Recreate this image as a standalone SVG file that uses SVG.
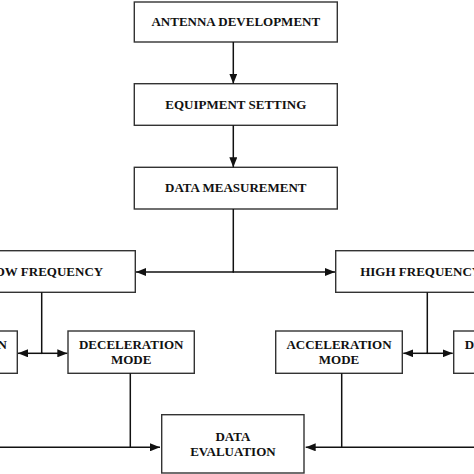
<svg xmlns="http://www.w3.org/2000/svg" width="474" height="474" viewBox="0 0 474 474">
  <defs>
    <marker id="ah" markerUnits="userSpaceOnUse" markerWidth="10" markerHeight="8" refX="10" refY="4" orient="auto">
      <path d="M0,0 L10,4 L0,8 z" fill="#111"/>
    </marker>
    <style>
      .box { fill: #fff; stroke: #333; stroke-width: 1.4; }
      .lbl { font-family: "Liberation Serif", "Times New Roman", serif; font-weight: bold; font-size: 13px; fill: #111; text-anchor: middle; }
      .con { fill: none; stroke: #111; stroke-width: 1.5; }
      .arr { marker-end: url(#ah); }
    </style>
  </defs>
  <rect x="0" y="0" width="474" height="474" fill="#fff"/>

  <g id="node-antenna">
    <rect class="box" x="134.3" y="2" width="203" height="40"/>
    <text class="lbl" x="235.8" y="25.5">ANTENNA DEVELOPMENT</text>
  </g>
  <g id="node-equipment">
    <rect class="box" x="134.3" y="83.7" width="203" height="41.6"/>
    <text class="lbl" x="235.8" y="109">EQUIPMENT SETTING</text>
  </g>
  <g id="node-measurement">
    <rect class="box" x="134.3" y="167.3" width="203" height="41.7"/>
    <text class="lbl" x="235.8" y="192.3">DATA MEASUREMENT</text>
  </g>
  <g id="node-low">
    <rect class="box" x="-46" y="250.7" width="181.3" height="41.6"/>
    <text class="lbl" x="44.6" y="276.3">LOW FREQUENCY</text>
  </g>
  <g id="node-high">
    <rect class="box" x="335.7" y="250.7" width="170" height="41.6"/>
    <text class="lbl" x="420.7" y="276.3">HIGH FREQUENCY</text>
  </g>
  <g id="node-low-acc">
    <rect class="box" x="-109" y="331" width="126.3" height="42.3"/>
    <text class="lbl" x="-45.8" y="349">ACCELERATION</text>
    <text class="lbl" x="-45.8" y="363.6">MODE</text>
  </g>
  <g id="node-low-dec">
    <rect class="box" x="68" y="331" width="126.3" height="42.3"/>
    <text class="lbl" x="131.2" y="349">DECELERATION</text>
    <text class="lbl" x="131.2" y="363.6">MODE</text>
  </g>
  <g id="node-high-acc">
    <rect class="box" x="275.7" y="331" width="126.6" height="42.3"/>
    <text class="lbl" x="339" y="349">ACCELERATION</text>
    <text class="lbl" x="339" y="363.6">MODE</text>
  </g>
  <g id="node-high-dec">
    <rect class="box" x="453.7" y="331" width="126.6" height="42.3"/>
    <text class="lbl" x="517" y="349">DECELERATION</text>
    <text class="lbl" x="517" y="363.6">MODE</text>
  </g>
  <g id="node-evaluation">
    <rect class="box" x="161.7" y="414.7" width="142.3" height="58.3"/>
    <text class="lbl" x="232.9" y="441.2">DATA</text>
    <text class="lbl" x="232.9" y="456.2">EVALUATION</text>
  </g>

  <g id="connectors">
    <line class="con arr" x1="233.3" y1="42" x2="233.3" y2="83.7"/>
    <line class="con arr" x1="233.3" y1="125.3" x2="233.3" y2="167.3"/>
    <polyline class="con" points="233.3,209 233.3,272"/>
    <line class="con arr" x1="234" y1="272" x2="136" y2="272"/>
    <line class="con arr" x1="232.6" y1="272" x2="335" y2="272"/>
    <polyline class="con" points="41.7,292.3 41.7,353.3"/>
    <line class="con arr" x1="42.4" y1="353.3" x2="18" y2="353.3"/>
    <line class="con arr" x1="41" y1="353.3" x2="67.3" y2="353.3"/>
    <polyline class="con" points="427.3,292.3 427.3,353.3"/>
    <line class="con arr" x1="428" y1="353.3" x2="403.3" y2="353.3"/>
    <line class="con arr" x1="426.6" y1="353.3" x2="452.7" y2="353.3"/>
    <polyline class="con" points="130.3,373.3 130.3,447.3"/>
    <line class="con arr" x1="-50" y1="447.3" x2="160" y2="447.3"/>
    <polyline class="con" points="341.7,373.3 341.7,447.3"/>
    <line class="con arr" x1="520" y1="447.3" x2="305.7" y2="447.3"/>
  </g>
</svg>
